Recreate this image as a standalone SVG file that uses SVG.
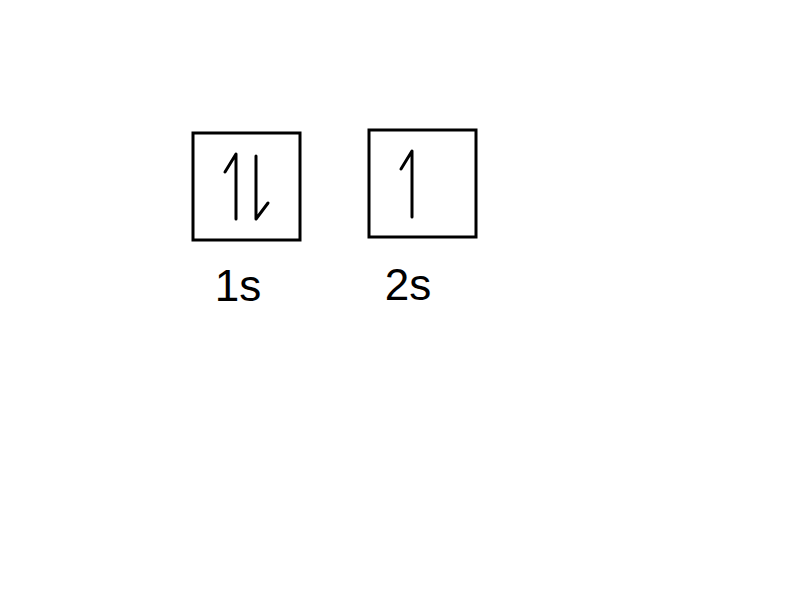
<svg xmlns="http://www.w3.org/2000/svg" width="800" height="615" viewBox="0 0 800 615">
<style>
.box{fill:none;stroke:#000;stroke-width:3}
.arr{fill:none;stroke:#000;stroke-width:3;stroke-linecap:round;stroke-linejoin:round}
.lbl{font-family:"Liberation Sans",Arial,sans-serif;font-size:44px;fill:#000;text-anchor:middle}
</style>
<rect width="800" height="615" fill="#fff"/>
<g id="orbital-1s">
<rect class="box" x="193" y="133" width="107" height="107"/>
<path class="arr" d="M225,172 L236,154 L236,219"/>
<path class="arr" d="M256,156 L256,219 L268,203"/>
<text class="lbl" x="238" y="301">1s</text>
</g>
<g id="orbital-2s">
<rect class="box" x="369" y="130" width="107" height="107"/>
<path class="arr" d="M401,169 L412,151 L412,217"/>
<text class="lbl" x="408" y="300">2s</text>
</g>
<g id="connectors"></g>
</svg>
